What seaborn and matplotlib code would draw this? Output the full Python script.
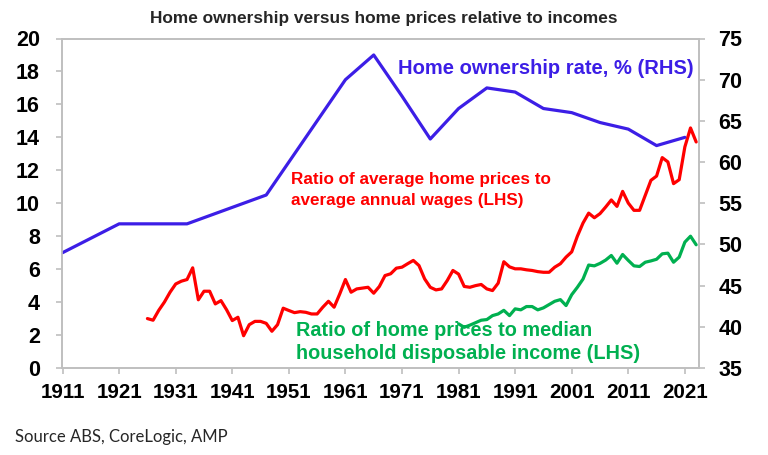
import numpy as np
import pandas as pd
import matplotlib
matplotlib.use("Agg")
import matplotlib.pyplot as plt
import seaborn as sns

# home ownership rate, % (census years) - right axis
own_years = [1911, 1921, 1933, 1947, 1954, 1961, 1966, 1971, 1976, 1981, 1986,
             1991, 1996, 2001, 2006, 2011, 2016, 2021]
own_rate = [49.0, 52.5, 52.5, 56.0, 63.0, 70.0, 73.0, 68.0, 62.8, 66.5, 69.0,
            68.5, 66.5, 66.0, 64.8, 64.0, 62.0, 63.0]

# ratio of average home prices to average annual wages - left axis
wage_years = list(range(1926, 2024))
wage_ratio = [3.0, 2.9, 3.5, 4.0, 4.6, 5.1, 5.27, 5.37, 6.08, 4.14,
              4.66, 4.66, 3.89, 4.09, 3.53, 2.88, 3.08, 1.96, 2.63, 2.83,
              2.83, 2.71, 2.23, 2.63, 3.63, 3.49, 3.36, 3.42, 3.38, 3.28,
              3.28, 3.69, 4.05, 3.69, 4.5, 5.37, 4.6, 4.8, 4.85, 4.9,
              4.54, 4.95, 5.61, 5.72, 6.06, 6.12, 6.33, 6.53, 6.22, 5.41,
              4.9, 4.74, 4.8, 5.31, 5.92, 5.7, 4.95, 4.9, 5.0, 5.07,
              4.8, 4.7, 5.15, 6.45, 6.14, 6.02, 6.02, 5.96, 5.92, 5.85,
              5.81, 5.81, 6.12, 6.33, 6.73, 7.05, 8.0, 8.8, 9.4, 9.12,
              9.37, 9.77, 10.2, 9.81, 10.72, 10.01, 9.57, 9.57, 10.48, 11.39,
              11.65, 12.77, 12.51, 11.19, 11.43, 13.42, 14.57, 13.72]

# ratio of home prices to median household disposable income - left axis
inc_years = list(range(1981, 2024))
inc_ratio = [2.68, 2.47, 2.6, 2.75, 2.9, 2.94, 3.18, 3.28, 3.5, 3.18,
             3.59, 3.53, 3.73, 3.73, 3.53, 3.65, 3.85, 4.05, 4.15, 3.79,
             4.45, 4.9, 5.4, 6.25, 6.2, 6.35, 6.55, 6.83, 6.36, 6.89,
             6.53, 6.2, 6.16, 6.42, 6.5, 6.6, 6.93, 6.97, 6.42, 6.73,
             7.64, 8.0, 7.48]

xticks = list(range(1911, 2022, 10))

BLUE = "#3C1EE6"
RED = "#FF0000"
GREEN = "#00B050"
GREY = "#BFBFBF"

sns.set_theme(style="white")
plt.rcParams["font.family"] = ["Liberation Sans", "DejaVu Sans"]

fig = plt.figure(figsize=(7.68, 4.55), dpi=100)
ax = fig.add_axes([62 / 768, 1 - 368 / 455, 637 / 768, 329.5 / 455])
ax2 = ax.twinx()

df_wage = pd.DataFrame({"year": wage_years, "ratio": wage_ratio})
df_inc = pd.DataFrame({"year": inc_years, "ratio": inc_ratio})
df_own = pd.DataFrame({"year": own_years, "rate": own_rate})

sns.lineplot(data=df_wage, x="year", y="ratio", ax=ax, color=RED, linewidth=2.3)
sns.lineplot(data=df_inc, x="year", y="ratio", ax=ax, color=GREEN, linewidth=2.3)
sns.lineplot(data=df_own, x="year", y="rate", ax=ax2, color=BLUE, linewidth=2.3)

ax.set_xlim(1910.9, 2023.5)
ax.set_ylim(0, 20)
ax2.set_ylim(35, 75)
ax.set_xticks(xticks)
ax.set_yticks(range(0, 21, 2))
ax2.set_yticks(range(35, 76, 5))
ax.set_xlabel("")
ax.set_ylabel("")
ax2.set_ylabel("")

for a in (ax, ax2):
    for s in a.spines.values():
        s.set_color(GREY)
        s.set_linewidth(1.2)
    a.tick_params(direction="out", length=4, width=1.2, color=GREY,
                  labelsize=15.5, labelcolor="black")
    for lab in a.get_xticklabels() + a.get_yticklabels():
        lab.set_fontweight("bold")
ax.tick_params(axis="x", pad=7, bottom=True, labelsize=14.8)
ax.tick_params(axis="y", pad=12, left=True)
ax2.tick_params(axis="y", pad=10, right=True)

fig.text(0.5, 1 - 18 / 455, "Home ownership versus home prices relative to incomes",
         ha="center", va="center", fontsize=12.4, fontweight="bold")
fig.text(398 / 768, 1 - 68 / 455, "Home ownership rate, % (RHS)",
         ha="left", va="center", fontsize=14.5, fontweight="bold", color=BLUE)
fig.text(291 / 768, 1 - 190 / 455, "Ratio of average home prices to\naverage annual wages (LHS)",
         ha="left", va="center", fontsize=12.3, fontweight="bold", color=RED,
         linespacing=1.45)
fig.text(296 / 768, 1 - 342 / 455, "Ratio of home prices to median\nhousehold disposable income (LHS)",
         ha="left", va="center", fontsize=14.3, fontweight="bold", color=GREEN,
         linespacing=1.25)
fig.text(15 / 768, 1 - 437 / 455, "Source ABS, CoreLogic, AMP",
         ha="left", va="center", fontsize=12, family=["Lato", "DejaVu Sans"])

fig.savefig("out.png", dpi=100)
